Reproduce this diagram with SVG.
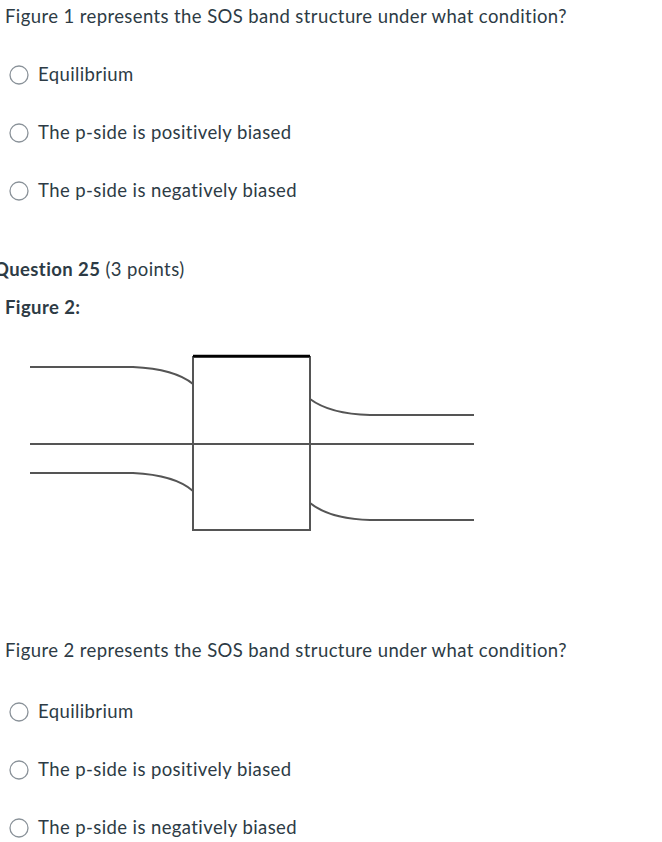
<svg xmlns="http://www.w3.org/2000/svg" width="662" height="842" viewBox="0 0 662 842">
<style>
text{font-family:Lato,"Liberation Sans",sans-serif;font-size:18.5px;letter-spacing:0.4px;fill:#2d3b45}
.r{fill:#fff;stroke:#8a9299;stroke-width:1.3}
.b{fill:none;stroke:#555;stroke-width:2}
</style>
<rect width="662" height="842" fill="#fff"/>
<text x="5" y="23">Figure 1 represents the SOS band structure under what condition?</text>
<circle class="r" cx="19" cy="75" r="9"/><text x="38" y="81">Equilibrium</text>
<circle class="r" cx="19" cy="133" r="9"/><text x="38" y="139">The p-side is positively biased</text>
<circle class="r" cx="19" cy="191" r="9"/><text x="38" y="197">The p-side is negatively biased</text>
<text x="-6" y="276"><tspan font-weight="bold">Question 25</tspan> (3 points)</text>
<text x="5" y="314" font-weight="bold">Figure 2:</text>
<g id="figure">
<rect class="b" x="193" y="357" width="117" height="173"/>
<line x1="193" y1="356" x2="310" y2="356" stroke="#000" stroke-width="2.5"/>
<line class="b" x1="30" y1="444" x2="474" y2="444"/>
<path class="b" d="M30 367 H133 Q175 369 193 384"/>
<path class="b" d="M30 473 H133 Q175 475 193 491"/>
<path class="b" d="M310 399 Q330 414 370 415 H474"/>
<path class="b" d="M310 503 Q330 519 370 520 H474"/>
</g>
<text x="5" y="657">Figure 2 represents the SOS band structure under what condition?</text>
<circle class="r" cx="19" cy="712" r="9"/><text x="38" y="718">Equilibrium</text>
<circle class="r" cx="19" cy="770" r="9"/><text x="38" y="776">The p-side is positively biased</text>
<circle class="r" cx="19" cy="828" r="9"/><text x="38" y="834">The p-side is negatively biased</text>
</svg>
